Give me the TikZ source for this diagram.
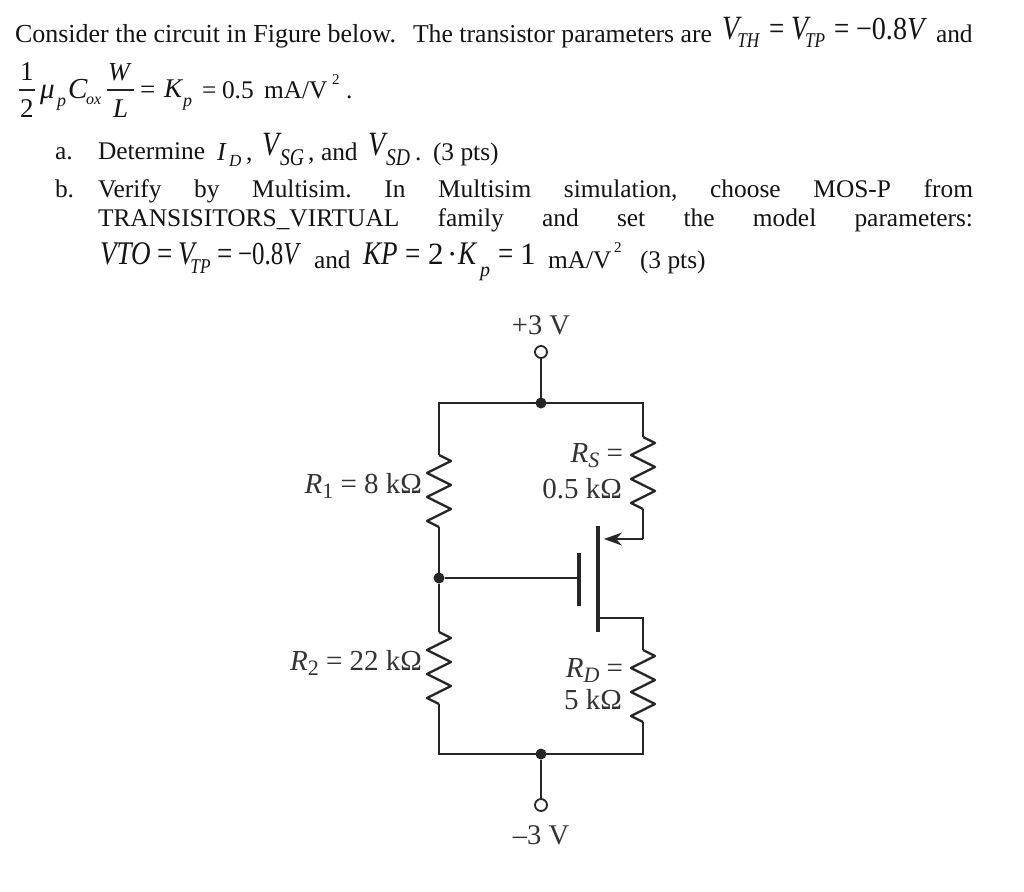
\documentclass[tikz,border=0pt]{standalone}
\usepackage{graphicx}
\usepackage{fontspec}
\setmainfont{Liberation Serif}
\usetikzlibrary{arrows.meta}
\newcounter{tn}
\newcommand{\fs}[1]{\fontsize{#1pt}{#1pt}\selectfont}
\newcommand{\nar}[1]{\scalebox{0.82}[1]{#1}}
% \T[size]{x}{y}{text}: base-west anchored text; \I italic; \N narrow italic; \Q narrow upright
\newcommand{\T}[4][25.4]{\stepcounter{tn}\node[txt,name=t\arabic{tn}] at (#2,#3) {\fs{#1}#4};}
\newcommand{\I}[4][25.4]{\stepcounter{tn}\node[txt,name=t\arabic{tn}] at (#2,#3) {\fs{#1}\itshape #4};}
\newcommand{\N}[4][25.4]{\stepcounter{tn}\node[txt,name=t\arabic{tn}] at (#2,#3) {\nar{\fs{#1}\itshape #4}};}
\newcommand{\Q}[4][25.4]{\stepcounter{tn}\node[txt,name=t\arabic{tn}] at (#2,#3) {\nar{\fs{#1}#4}};}
\tikzset{
  txt/.style={anchor=base west,inner sep=0pt,outer sep=0pt,text=black!92},
  lab/.style={inner sep=0pt,outer sep=0pt,text=black!80},
  wire/.style={draw=black!85,line width=2.3pt,line join=miter},
  plate/.style={draw=black!85,line width=4.8pt},
  dotn/.style={circle,fill=black!85,inner sep=0pt,outer sep=0pt,minimum size=11pt},
  term/.style={circle,draw=black!85,fill=white,line width=1.8pt,inner sep=0pt,outer sep=0pt,minimum size=12pt},
  pics/zig/.style={code={\draw[wire,line join=round] (0,0)--(12,6)--(-12,18)--(12,30)--(-12,42)--(12,54)--(-12,66)--(0,72);}}
}
\frenchspacing
\begin{document}
\begin{tikzpicture}[x=1pt,y=-1pt]
\useasboundingbox[fill=white] (0,0) rectangle (1024,891);
% --- text ---
\T[26]{15}{43}{Consider the circuit in Figure below.}
\T[25.7]{413}{43}{The transistor parameters are}
\N[34]{722}{40}{V\kern-2pt\raisebox{-8pt}{\fs{21}TH}}\Q[33]{769}{40}{=}\N[34]{791}{40}{V\kern-3.5pt\raisebox{-8pt}{\fs{21}TP}}\Q[33]{834}{40}{=}
\stepcounter{tn}\node[txt,name=t\arabic{tn}] at (856,40) {\scalebox{0.88}[1]{\fs{32}−0.8\textit{V}}};
\T{936}{43}{and}
\T[27]{20}{80}{1}\T[27]{20}{117}{2}
\I[29]{40}{98}{μ}\I[18]{57}{106}{p}\I[29]{68}{98}{C}\I[16]{86}{104}{ox}
\I[26]{108}{80}{W}\I[27]{113}{117}{L}
\T[27]{140}{98}{=}\I[27]{164}{97}{K}\I[18]{183}{106}{p}\T{202}{98}{=}\T{222}{98}{0.5}\T{264}{98}{mA/V}\T[15]{332}{84}{2}\T{346}{98}{.}
\T{55}{159}{a.}\T{98}{159}{Determine}
\I[26]{217}{160}{I}\I[17]{229}{166}{D}\T{246}{160}{,}
\N[34]{262}{155}{V}\N[24]{280}{165}{SG}\T{308}{160}{,}\T{321}{160}{and}
\N[34]{368}{155}{V}\N[24]{386}{165}{SD}\T{415}{160}{.}\T{433}{160}{(3 pts)}
\T{55}{197}{b.}
\T{98}{197}{\makebox[875pt][s]{Verify by Multisim. In Multisim simulation, choose MOS-P from}}
\T{98}{226}{\makebox[875pt][s]{TRANSISITORS\_VIRTUAL family and set the model parameters:}}
\N[33]{100}{264}{VTO}\Q[33]{157}{264}{=}\N[33]{178}{264}{V\kern-5pt\raisebox{-9pt}{\fs{21}TP}}\Q[33]{217}{264}{=}
\stepcounter{tn}\node[txt,name=t\arabic{tn}] at (238,264) {\scalebox{0.78}[1]{\fs{32}−0.8\textit{V}}};
\T{314}{268}{and}
\N[33]{363}{264}{KP}\Q[33]{405}{264}{=}\T[31]{428}{264}{2}\T[31]{447}{264}{·}\N[33]{458}{264}{K}\I[20]{480}{276}{p}\Q[33]{498}{264}{=}\T[31]{520}{264}{1}
\T{548}{268}{mA/V}\T[15]{614}{252}{2}\T{640}{268}{(3 pts)}
\draw[wire,line width=1.1pt] (19,90) -- (35,90);
\draw[wire,line width=1.1pt] (107,90) -- (134,90);
% --- circuit points ---
\node[term] (vdd) at (541,352) {};
\node[term] (vss) at (541,805) {};
\node[dotn] (top) at (541,403) {};
\node[dotn] (bot) at (541,754) {};
\node[dotn] (mid) at (439,578) {};
\coordinate (tl) at (439,403); \coordinate (tr) at (643,403);
\coordinate (bl) at (439,754); \coordinate (br) at (643,754);
\coordinate (r1a) at (439,455); \coordinate (r1b) at (439,527);
\coordinate (r2a) at (439,632); \coordinate (r2b) at (439,704);
\coordinate (rsa) at (643,437); \coordinate (rsb) at (643,509);
\coordinate (rda) at (643,650); \coordinate (rdb) at (643,722);
\coordinate (gate) at (579,578); \coordinate (src) at (643,539); \coordinate (srcin) at (604,539);
\coordinate (drn) at (643,618); \coordinate (drin) at (598,618);
\pic at (r1a) {zig}; \pic at (r2a) {zig}; \pic at (rsa) {zig}; \pic at (rda) {zig};
\draw[wire] (vdd) -- (top);
\draw[wire] (vss) -- (bot);
\draw[wire] (r1a) -- (tl) -- (tr) -- (rsa);
\draw[wire] (r2b) -- (bl) -- (br) -- (rdb);
\draw[wire] (r1b) -- (mid) -- (r2a);
\draw[wire] (mid) -- (gate);
\draw[wire] (rsb) -- (src);
\draw[wire,-{Stealth[length=18pt,width=13pt,inset=6pt]}] (src) -- (srcin);
\draw[wire] (drin) -- (drn) -- (rda);
\draw[plate] (579,553) -- (579,606);
\draw[plate] (598,526) -- (598,632);
% --- circuit labels ---
\node[lab,anchor=base] (lvdd) at (541,334) {\fs{28.5}+3 V};
\node[lab,anchor=base] (lvss) at (541,844) {\fs{28.5}–3 V};
\node[lab,anchor=base east] (lr1) at (422,493) {\fs{29}\textit{R}\raisebox{-5pt}{\fs{22}1} = 8 kΩ};
\node[lab,anchor=base east] (lr2) at (422,670) {\fs{29}\textit{R}\raisebox{-5pt}{\fs{22}2} = 22 kΩ};
\node[lab,anchor=base east] (lrs) at (623,462) {\fs{29}\textit{R}\raisebox{-5pt}{\fs{22}\textit{S}} =};
\node[lab,anchor=base east] (lrs2) at (622,498) {\fs{29}0.5 kΩ};
\node[lab,anchor=base east] (lrd) at (623,677) {\fs{29}\textit{R}\raisebox{-5pt}{\fs{22}\textit{D}} =};
\node[lab,anchor=base east] (lrd2) at (622,709) {\fs{29}5 kΩ};
\end{tikzpicture}
\end{document}
